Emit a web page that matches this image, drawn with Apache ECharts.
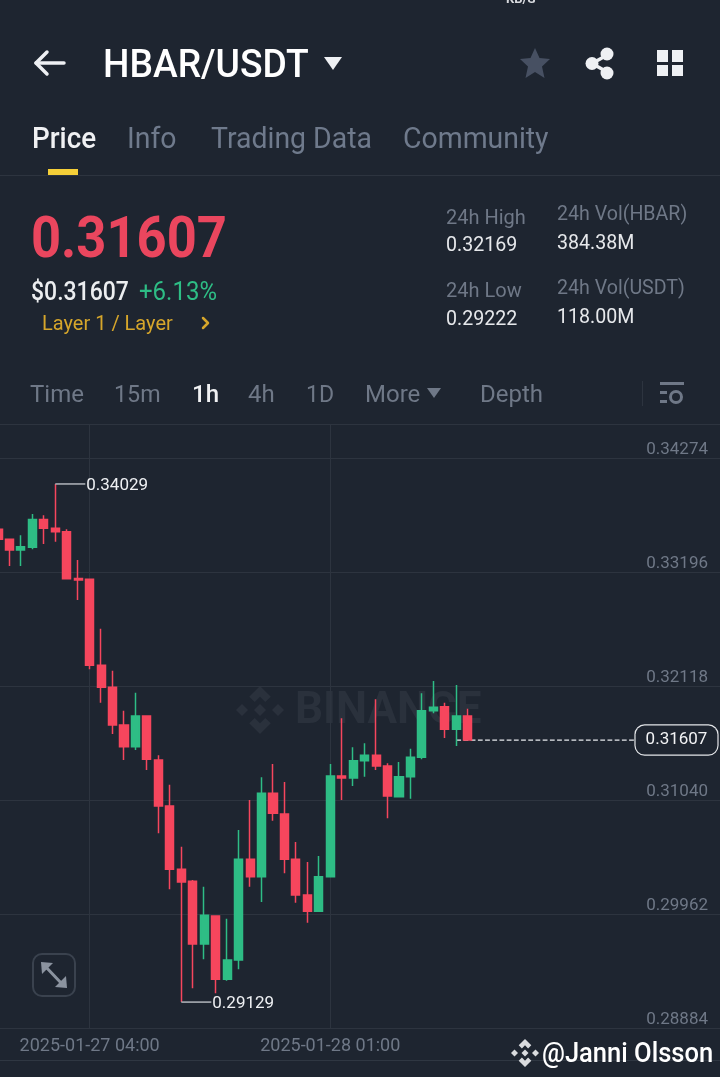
<!DOCTYPE html>
<html>
<head>
<meta charset="utf-8">
<style>html,body{margin:0;padding:0;background:#1e2530;overflow:hidden}#main{width:720px;height:1077px}</style>
<script src="https://cdn.jsdelivr.net/npm/echarts@6/dist/echarts.min.js"></script>
</head>
<body>
<div id="main"></div>
<script>
/*1h candles*/
var categories=[
	"2025-01-26 20:00","2025-01-26 21:00","2025-01-26 22:00","2025-01-26 23:00","2025-01-27 00:00","2025-01-27 01:00","2025-01-27 02:00","2025-01-27 03:00",
	"2025-01-27 04:00","2025-01-27 05:00","2025-01-27 06:00","2025-01-27 07:00","2025-01-27 08:00","2025-01-27 09:00","2025-01-27 10:00","2025-01-27 11:00",
	"2025-01-27 12:00","2025-01-27 13:00","2025-01-27 14:00","2025-01-27 15:00","2025-01-27 16:00","2025-01-27 17:00","2025-01-27 18:00","2025-01-27 19:00",
	"2025-01-27 20:00","2025-01-27 21:00","2025-01-27 22:00","2025-01-27 23:00","2025-01-28 00:00","2025-01-28 01:00","2025-01-28 02:00","2025-01-28 03:00",
	"2025-01-28 04:00","2025-01-28 05:00","2025-01-28 06:00","2025-01-28 07:00","2025-01-28 08:00","2025-01-28 09:00","2025-01-28 10:00","2025-01-28 11:00",
	"2025-01-28 12:00","2025-01-28 13:00"
];
var opens=[0.33600,0.33505,0.33404,0.33430,0.33694,0.33609,0.33577,0.33136,0.33127,0.32314,0.32106,0.31749,0.31544,0.31834,0.31418,0.30983,0.30385,0.30271,0.29678,0.29943,0.29345,0.29527,0.30479,0.30315,0.31103,0.30908,0.30479,0.30142,0.29988,0.30315,0.31267,0.31248,0.31412,0.31463,0.31362,0.31071,0.31260,0.31444,0.31884,0.31922,0.31709,0.31834];
var closes=[0.33505,0.33404,0.33435,0.33694,0.33609,0.33577,0.33133,0.33120,0.32314,0.32106,0.31749,0.31544,0.31834,0.31425,0.30983,0.30385,0.30265,0.29678,0.29950,0.29345,0.29527,0.30479,0.30315,0.31103,0.30914,0.30479,0.30142,0.29988,0.30315,0.31267,0.31248,0.31412,0.31463,0.31362,0.31078,0.31260,0.31444,0.31884,0.31917,0.31709,0.31834,0.31607];
var lows=[0.33505,0.33253,0.33253,0.33411,0.33461,0.33483,0.33133,0.32931,0.32276,0.31960,0.31664,0.31418,0.31513,0.31324,0.30725,0.30196,0.29129,0.29259,0.29534,0.29212,0.29331,0.29439,0.30220,0.30076,0.30844,0.30347,0.30069,0.29880,0.29988,0.30309,0.31040,0.31172,0.31260,0.31324,0.30867,0.31066,0.31052,0.31425,0.31860,0.31626,0.31551,0.31607];
var highs=[0.33610,0.33505,0.33543,0.33744,0.33732,0.34029,0.33600,0.33310,0.33127,0.32660,0.32263,0.31884,0.32055,0.31834,0.31463,0.31185,0.30598,0.30284,0.30220,0.29943,0.29918,0.30756,0.31040,0.31255,0.31380,0.31210,0.30643,0.30454,0.30510,0.31380,0.31813,0.31538,0.31576,0.31992,0.31387,0.31399,0.31525,0.32049,0.32165,0.31960,0.32127,0.31903];
var priceTicks=[0.28884,0.29962,0.31040,0.32118,0.33196,0.34274];
var timeTicks=["2025-01-27 04:00","2025-01-28 01:00"];
var lastPrice=0.31607;
var emptySlots=22;

var BG="#1e2530",RED="#f6465d",GREEN="#2ebd85",GRID="#2d343f",MUTED="#6f7887",FONT="Roboto";

/*页面文字 sx:横向压缩*/
function txt(s,x,y,size,color,weight,sx){
	return {type:"text",x:x,y:y,scaleX:sx||1,silent:true,style:{text:s,fill:color,font:(weight||"normal")+" "+size+"px "+FONT,textAlign:"left",textVerticalAlign:"middle"}};
}
function hline(y,x1,x2,c){
	return {type:"line",silent:true,shape:{x1:x1||0,y1:y,x2:x2||720,y2:y},style:{stroke:c||GRID,lineWidth:1}};
}
function poly(points,fill){
	return {type:"polygon",silent:true,shape:{points:points},style:{fill:fill}};
}
function stroke(points,c,w){
	return {type:"polyline",silent:true,shape:{points:points},style:{stroke:c,lineWidth:w,fill:null,lineCap:"round",lineJoin:"round"}};
}
function dot(x,y,r,c){
	return {type:"circle",silent:true,shape:{cx:x,cy:y,r:r},style:{fill:c}};
}
function box(x,y,w,h,c,r){
	return {type:"rect",silent:true,shape:{x:x,y:y,width:w,height:h,r:r||0},style:{fill:c}};
}
/*币安菱形标*/
function logo(cx,cy,s,c){
	return [
		poly([[cx,cy-s],[cx+s*0.45,cy-s*0.55],[cx+s*0.22,cy-s*0.33],[cx,cy-s*0.55],[cx-s*0.22,cy-s*0.33],[cx-s*0.45,cy-s*0.55]],c),
		poly([[cx,cy+s],[cx+s*0.45,cy+s*0.55],[cx+s*0.22,cy+s*0.33],[cx,cy+s*0.55],[cx-s*0.22,cy+s*0.33],[cx-s*0.45,cy+s*0.55]],c),
		poly([[cx-s,cy],[cx-s*0.75,cy-s*0.25],[cx-s*0.5,cy],[cx-s*0.75,cy+s*0.25]],c),
		poly([[cx+s,cy],[cx+s*0.75,cy-s*0.25],[cx+s*0.5,cy],[cx+s*0.75,cy+s*0.25]],c),
		poly([[cx,cy-s*0.25],[cx+s*0.25,cy],[cx,cy+s*0.25],[cx-s*0.25,cy]],c)
	];
}
var LIGHT="#eef0f3",TAB="#6f7a8c";
var uiElements=[
	txt("KB/S",506,0,13,"#d8dade","bold"),
	box(636,-2,30,2,"#5a6270"),
	stroke([[36,63],[64,63]],LIGHT,3.5),stroke([[47,52],[36,63],[47,74]],LIGHT,3.5),
	txt("HBAR/USDT",103,67,38,"#ffffff","500",0.98),
	poly([[324,57],[342,57],[333,70]],LIGHT),
	poly([[535,48],[539.5,58],[550,59],[542,66.5],[544.5,78],[535,72],[525.5,78],[528,66.5],[520,59],[530.5,58]],"#475062"),
	stroke([[609,54],[592,63.5],[609,73]],LIGHT,3.5),dot(592,63.5,6.5,LIGHT),dot(607,54,6.5,LIGHT),dot(607,73,6.5,LIGHT),
	box(657,50,11,12,LIGHT),box(672,50,11,12,LIGHT),box(657,65,11,11,LIGHT),box(672,65,11,11,LIGHT),
	txt("Price",32,141,29,"#f0f1f3","500",0.96),
	txt("Info",127,141,29,TAB,null,0.98),
	txt("Trading Data",211,141,29,TAB,null,0.98),
	txt("Community",403,141,29,TAB,null,0.98),
	box(48,169,30,6,"#f5cf38"),
	hline(175.5),
	txt("0.31607",31,242,58,"#ea465e","bold",0.905),
	txt("$0.31607",31,294,25,"#eceef0","500",0.92),
	txt("+6.13%",139,294,25,GREEN,null,0.96),
	txt("Layer 1 / Layer",42,325,20,"#d6a62b"),
	stroke([[203,318],[208,323],[203,328]],"#d6a62b",2.5),
	txt("24h High",446,219,20,MUTED),
	txt("0.32169",446,246,20,"#e6e8eb",null,0.98),
	txt("24h Vol(HBAR)",557,215,20,MUTED,null,0.98),
	txt("384.38M",557,244,20,"#e6e8eb",null,0.98),
	txt("24h Low",446,292,20,MUTED),
	txt("0.29222",446,320,20,"#e6e8eb",null,0.98),
	txt("24h Vol(USDT)",557,289,20,MUTED,null,0.98),
	txt("118.00M",557,318,20,"#e6e8eb",null,0.98),
	txt("Time",30,396,24,MUTED),
	txt("15m",114,396,24,MUTED,null,0.97),
	txt("1h",192,396,24,"#f0f1f3","500"),
	txt("4h",248,396,24,MUTED),
	txt("1D",306,396,24,MUTED,null,0.96),
	txt("More",365,396,24,MUTED),
	poly([[427,388],[441,388],[434,398]],MUTED),
	txt("Depth",480,396,24,MUTED),
	box(642,381,1,25,GRID),
	box(660,382,24,3,MUTED),box(660,391,7,3,MUTED),box(660,400,7,3,MUTED),
	{type:"circle",silent:true,shape:{cx:676,cy:397,r:5.5},style:{fill:BG,stroke:MUTED,lineWidth:3}},
	hline(424.5),
	hline(1060.5,0,720,"#2f3742"),
	txt("BINANCE",295,712,44,"#2a313c","bold"),
	{type:"rect",silent:true,shape:{x:33,y:954,width:42,height:42,r:9},style:{fill:BG,stroke:"#3a424e",lineWidth:2}},
	stroke([[44,965],[63,985]],"#8b939f",3),
	poly([[41,962],[53,963],[42,974]],"#8b939f"),poly([[67,988],[55,987],[66,976]],"#8b939f"),
	txt("@Janni Olsson",542,1055,27,"#ffffff","500",0.945)
].concat(logo(260,710,24,"#2a313c"),logo(525,1053,14,"#d9dbde"));

var chart=echarts.init(document.getElementById("main"),null,{renderer:"canvas"});
var xData=categories.slice();
for(var i=0;i<emptySlots;i++){xData.push("");}
var candleData=[];
for(var k=0;k<categories.length;k++){candleData.push([opens[k],closes[k],lows[k],highs[k]]);}
var maxHigh=Math.max.apply(null,highs),minLow=Math.min.apply(null,lows);

/*最高最低价标注*/
function extremeMark(idx,val){
	return {coord:[idx,val],value:val.toFixed(5),symbol:"rect",symbolSize:[30,1.6],symbolOffset:[15,0],
		itemStyle:{color:"#a9adb3"},
		label:{show:true,position:"right",distance:1,offset:[0,2],color:"#eef0f3",fontSize:17,fontFamily:FONT,formatter:"{c}"}};
}
chart.setOption({
	animation:false,
	backgroundColor:BG,
	graphic:{elements:uiElements},
	grid:{left:-7.73,top:424,width:733.25,height:604,outerBoundsMode:"none"},
	xAxis:{
		type:"category",data:xData,boundaryGap:true,
		axisLine:{show:true,lineStyle:{color:GRID,width:1}},
		axisTick:{show:false},splitLine:{show:false},
		axisLabel:{color:MUTED,fontSize:18,fontFamily:FONT,margin:9,hideOverlap:false,
			interval:function(i,v){return timeTicks.indexOf(v)>=0;}}
	},
	yAxis:{
		type:"value",position:"right",min:priceTicks[0],max:0.34596,
		axisLine:{show:false},
		axisTick:{show:false,customValues:priceTicks},
		splitLine:{show:true,lineStyle:{color:GRID,width:1}},
		axisLabel:{inside:true,margin:17.5,color:MUTED,fontSize:17,fontFamily:FONT,verticalAlign:"bottom",padding:[0,0,0,0],
			customValues:priceTicks,formatter:function(v){return v.toFixed(5);}}
	},
	series:[
		{
			type:"line",z:2,silent:true,symbol:"none",
			data:[[categories.length-2,lastPrice],[56,lastPrice]],
			lineStyle:{color:"#e8eaed",type:"dashed",width:1.2},
			endLabel:{show:true,formatter:lastPrice.toFixed(5),distance:-4,color:"#f2f3f5",fontSize:17,fontFamily:FONT,
				backgroundColor:BG,borderColor:"#e4e6e9",borderWidth:1.2,borderRadius:9,padding:[9,10,3,10]},
			markLine:{z:1,silent:true,symbol:"none",label:{show:false},lineStyle:{color:GRID,width:1,type:"solid"},animation:false,
				data:[{xAxis:timeTicks[0]},{xAxis:timeTicks[1]}]}
		},
		{
			type:"candlestick",z:3,data:candleData,barWidth:8.6,
			itemStyle:{color:GREEN,color0:RED,borderColor:GREEN,borderColor0:RED,borderWidth:1.5},
			markPoint:{silent:true,animation:false,
				data:[extremeMark(highs.indexOf(maxHigh),maxHigh),extremeMark(lows.indexOf(minLow),minLow)]}
		}
	]
});
</script>
</body>
</html>
